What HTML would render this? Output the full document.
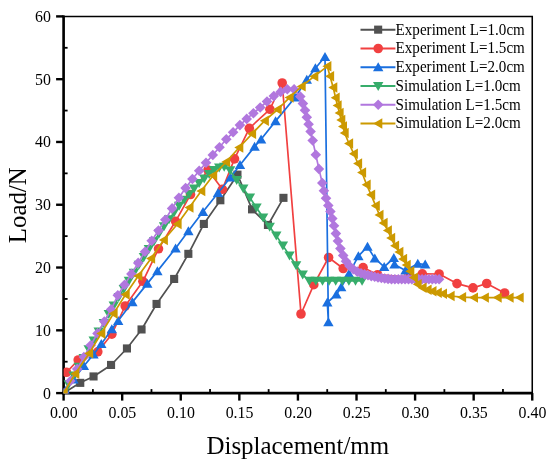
<!DOCTYPE html>
<html lang="en"><head><meta charset="utf-8"><title>Load-Displacement</title>
<style>html,body{margin:0;padding:0;background:#fff}body{width:550px;height:465px;overflow:hidden}</style></head>
<body>
<svg width="550" height="465" viewBox="0 0 550 465" style="display:block" font-family="'Liberation Serif', serif" fill="#000">
<rect width="550" height="465" fill="#fff"/>
<g stroke="#000" fill="none">
<line x1="62.27" y1="16.40" x2="533.02" y2="16.40" stroke-width="1.55"/>
<line x1="532.25" y1="16.40" x2="532.25" y2="394.43" stroke-width="1.55"/>
<line x1="63.60" y1="15.62" x2="63.60" y2="394.43" stroke-width="2.65"/>
<line x1="62.27" y1="393.10" x2="533.02" y2="393.10" stroke-width="2.65"/>
<line x1="63.60" y1="393.10" x2="63.60" y2="400.60" stroke-width="2.40"/>
<line x1="122.18" y1="393.10" x2="122.18" y2="400.60" stroke-width="2.40"/>
<line x1="180.76" y1="393.10" x2="180.76" y2="400.60" stroke-width="2.40"/>
<line x1="239.34" y1="393.10" x2="239.34" y2="400.60" stroke-width="2.40"/>
<line x1="297.93" y1="393.10" x2="297.93" y2="400.60" stroke-width="2.40"/>
<line x1="356.51" y1="393.10" x2="356.51" y2="400.60" stroke-width="2.40"/>
<line x1="415.09" y1="393.10" x2="415.09" y2="400.60" stroke-width="2.40"/>
<line x1="473.67" y1="393.10" x2="473.67" y2="400.60" stroke-width="2.40"/>
<line x1="532.25" y1="393.10" x2="532.25" y2="400.60" stroke-width="2.40"/>
<line x1="92.89" y1="393.10" x2="92.89" y2="389.10" stroke-width="1.80"/>
<line x1="151.47" y1="393.10" x2="151.47" y2="389.10" stroke-width="1.80"/>
<line x1="210.05" y1="393.10" x2="210.05" y2="389.10" stroke-width="1.80"/>
<line x1="268.63" y1="393.10" x2="268.63" y2="389.10" stroke-width="1.80"/>
<line x1="327.22" y1="393.10" x2="327.22" y2="389.10" stroke-width="1.80"/>
<line x1="385.80" y1="393.10" x2="385.80" y2="389.10" stroke-width="1.80"/>
<line x1="444.38" y1="393.10" x2="444.38" y2="389.10" stroke-width="1.80"/>
<line x1="502.96" y1="393.10" x2="502.96" y2="389.10" stroke-width="1.80"/>
<line x1="63.60" y1="393.10" x2="56.10" y2="393.10" stroke-width="2.40"/>
<line x1="63.60" y1="330.32" x2="56.10" y2="330.32" stroke-width="2.40"/>
<line x1="63.60" y1="267.53" x2="56.10" y2="267.53" stroke-width="2.40"/>
<line x1="63.60" y1="204.75" x2="56.10" y2="204.75" stroke-width="2.40"/>
<line x1="63.60" y1="141.97" x2="56.10" y2="141.97" stroke-width="2.40"/>
<line x1="63.60" y1="79.18" x2="56.10" y2="79.18" stroke-width="2.40"/>
<line x1="63.60" y1="16.40" x2="56.10" y2="16.40" stroke-width="2.40"/>
<line x1="63.60" y1="361.71" x2="67.60" y2="361.71" stroke-width="1.80"/>
<line x1="63.60" y1="298.93" x2="67.60" y2="298.93" stroke-width="1.80"/>
<line x1="63.60" y1="236.14" x2="67.60" y2="236.14" stroke-width="1.80"/>
<line x1="63.60" y1="173.36" x2="67.60" y2="173.36" stroke-width="1.80"/>
<line x1="63.60" y1="110.57" x2="67.60" y2="110.57" stroke-width="1.80"/>
<line x1="63.60" y1="47.79" x2="67.60" y2="47.79" stroke-width="1.80"/>
</g>
<clipPath id="pc"><rect x="63.60" y="16.40" width="468.65" height="377.00"/></clipPath>
<g clip-path="url(#pc)">
<g>
<polyline fill="none" stroke="#515151" stroke-width="1.70" stroke-linejoin="round" points="64.5,392.5 80.2,382.8 93.6,376.5 111.1,365.0 126.9,348.5 141.6,329.5 156.6,304.0 174.2,279.0 188.4,253.8 203.8,224.0 220.4,200.3 237.5,174.7 252.1,209.4 268.0,225.0 283.5,197.9"/>
<rect x="60.5" y="388.4" width="8.1" height="8.1" fill="#515151"/>
<rect x="76.2" y="378.8" width="8.1" height="8.1" fill="#515151"/>
<rect x="89.5" y="372.4" width="8.1" height="8.1" fill="#515151"/>
<rect x="107.0" y="360.9" width="8.1" height="8.1" fill="#515151"/>
<rect x="122.9" y="344.4" width="8.1" height="8.1" fill="#515151"/>
<rect x="137.5" y="325.4" width="8.1" height="8.1" fill="#515151"/>
<rect x="152.5" y="299.9" width="8.1" height="8.1" fill="#515151"/>
<rect x="170.1" y="274.9" width="8.1" height="8.1" fill="#515151"/>
<rect x="184.3" y="249.8" width="8.1" height="8.1" fill="#515151"/>
<rect x="199.8" y="219.9" width="8.1" height="8.1" fill="#515151"/>
<rect x="216.3" y="196.2" width="8.1" height="8.1" fill="#515151"/>
<rect x="233.4" y="170.6" width="8.1" height="8.1" fill="#515151"/>
<rect x="248.0" y="205.3" width="8.1" height="8.1" fill="#515151"/>
<rect x="263.9" y="220.9" width="8.1" height="8.1" fill="#515151"/>
<rect x="279.4" y="193.8" width="8.1" height="8.1" fill="#515151"/>
</g>
<g>
<polyline fill="none" stroke="#F14040" stroke-width="1.70" stroke-linejoin="round" points="66.5,372.3 78.2,360.0 97.8,351.8 111.8,334.2 125.2,306.0 142.9,281.3 158.5,248.8 175.6,221.3 190.5,194.5 208.0,170.0 222.4,189.3 234.5,158.9 249.3,128.3 269.9,109.3 282.2,83.0 301.0,314.0 313.8,284.7 328.6,257.5 343.2,268.5 363.1,267.6 377.6,274.7 408.0,277.0 422.3,273.8 439.1,274.0 457.0,283.6 473.0,287.9 486.7,283.5 504.6,293.0"/>
<circle cx="66.5" cy="372.3" r="4.8" fill="#F14040"/>
<circle cx="78.2" cy="360.0" r="4.8" fill="#F14040"/>
<circle cx="97.8" cy="351.8" r="4.8" fill="#F14040"/>
<circle cx="111.8" cy="334.2" r="4.8" fill="#F14040"/>
<circle cx="125.2" cy="306.0" r="4.8" fill="#F14040"/>
<circle cx="142.9" cy="281.3" r="4.8" fill="#F14040"/>
<circle cx="158.5" cy="248.8" r="4.8" fill="#F14040"/>
<circle cx="175.6" cy="221.3" r="4.8" fill="#F14040"/>
<circle cx="190.5" cy="194.5" r="4.8" fill="#F14040"/>
<circle cx="208.0" cy="170.0" r="4.8" fill="#F14040"/>
<circle cx="222.4" cy="189.3" r="4.8" fill="#F14040"/>
<circle cx="234.5" cy="158.9" r="4.8" fill="#F14040"/>
<circle cx="249.3" cy="128.3" r="4.8" fill="#F14040"/>
<circle cx="269.9" cy="109.3" r="4.8" fill="#F14040"/>
<circle cx="282.2" cy="83.0" r="4.8" fill="#F14040"/>
<circle cx="301.0" cy="314.0" r="4.8" fill="#F14040"/>
<circle cx="313.8" cy="284.7" r="4.8" fill="#F14040"/>
<circle cx="328.6" cy="257.5" r="4.8" fill="#F14040"/>
<circle cx="343.2" cy="268.5" r="4.8" fill="#F14040"/>
<circle cx="363.1" cy="267.6" r="4.8" fill="#F14040"/>
<circle cx="377.6" cy="274.7" r="4.8" fill="#F14040"/>
<circle cx="408.0" cy="277.0" r="4.8" fill="#F14040"/>
<circle cx="422.3" cy="273.8" r="4.8" fill="#F14040"/>
<circle cx="439.1" cy="274.0" r="4.8" fill="#F14040"/>
<circle cx="457.0" cy="283.6" r="4.8" fill="#F14040"/>
<circle cx="473.0" cy="287.9" r="4.8" fill="#F14040"/>
<circle cx="486.7" cy="283.5" r="4.8" fill="#F14040"/>
<circle cx="504.6" cy="293.0" r="4.8" fill="#F14040"/>
</g>
<g>
<polyline fill="none" stroke="#1A6FDF" stroke-width="1.70" stroke-linejoin="round" points="65.5,391.0 73.5,379.5 83.9,366.0 93.5,354.4 101.3,344.0 111.8,329.2 118.2,320.8 132.4,302.1 147.3,283.6 157.4,271.1 175.6,248.3 188.4,231.1 203.0,211.8 218.0,193.0 230.4,177.5 240.0,165.0 254.6,146.6 261.1,139.3 275.6,121.1 295.0,97.5 306.8,79.6 315.4,68.2 325.0,56.8 328.4,322.2 327.3,302.5 336.4,294.5 341.2,287.2 349.0,273.7 358.4,256.1 367.5,246.6 374.8,258.4 384.2,266.8 393.8,258.0 394.5,264.5 405.5,270.5 417.8,263.7 425.2,264.5"/>
<polygon fill="#1A6FDF" points="65.5,386.1 60.3,395.1 70.7,395.1"/>
<polygon fill="#1A6FDF" points="73.5,374.6 68.3,383.6 78.7,383.6"/>
<polygon fill="#1A6FDF" points="83.9,361.1 78.7,370.1 89.1,370.1"/>
<polygon fill="#1A6FDF" points="93.5,349.5 88.3,358.5 98.7,358.5"/>
<polygon fill="#1A6FDF" points="101.3,339.1 96.1,348.1 106.5,348.1"/>
<polygon fill="#1A6FDF" points="111.8,324.3 106.6,333.3 117.0,333.3"/>
<polygon fill="#1A6FDF" points="118.2,315.9 113.0,324.9 123.4,324.9"/>
<polygon fill="#1A6FDF" points="132.4,297.2 127.2,306.2 137.6,306.2"/>
<polygon fill="#1A6FDF" points="147.3,278.7 142.1,287.7 152.5,287.7"/>
<polygon fill="#1A6FDF" points="157.4,266.2 152.2,275.2 162.6,275.2"/>
<polygon fill="#1A6FDF" points="175.6,243.4 170.4,252.4 180.8,252.4"/>
<polygon fill="#1A6FDF" points="188.4,226.2 183.2,235.2 193.6,235.2"/>
<polygon fill="#1A6FDF" points="203.0,206.9 197.8,215.9 208.2,215.9"/>
<polygon fill="#1A6FDF" points="218.0,188.1 212.8,197.1 223.2,197.1"/>
<polygon fill="#1A6FDF" points="230.4,172.6 225.2,181.6 235.6,181.6"/>
<polygon fill="#1A6FDF" points="240.0,160.1 234.8,169.1 245.2,169.1"/>
<polygon fill="#1A6FDF" points="254.6,141.7 249.4,150.7 259.8,150.7"/>
<polygon fill="#1A6FDF" points="261.1,134.4 255.9,143.4 266.3,143.4"/>
<polygon fill="#1A6FDF" points="275.6,116.2 270.4,125.2 280.8,125.2"/>
<polygon fill="#1A6FDF" points="295.0,92.6 289.8,101.6 300.2,101.6"/>
<polygon fill="#1A6FDF" points="306.8,74.7 301.6,83.7 312.0,83.7"/>
<polygon fill="#1A6FDF" points="315.4,63.3 310.2,72.3 320.6,72.3"/>
<polygon fill="#1A6FDF" points="325.0,51.9 319.8,60.9 330.2,60.9"/>
<polygon fill="#1A6FDF" points="328.4,317.3 323.2,326.3 333.6,326.3"/>
<polygon fill="#1A6FDF" points="327.3,297.6 322.1,306.6 332.5,306.6"/>
<polygon fill="#1A6FDF" points="336.4,289.6 331.2,298.6 341.6,298.6"/>
<polygon fill="#1A6FDF" points="341.2,282.3 336.0,291.3 346.4,291.3"/>
<polygon fill="#1A6FDF" points="349.0,268.8 343.8,277.8 354.2,277.8"/>
<polygon fill="#1A6FDF" points="358.4,251.2 353.2,260.2 363.6,260.2"/>
<polygon fill="#1A6FDF" points="367.5,241.7 362.3,250.7 372.7,250.7"/>
<polygon fill="#1A6FDF" points="374.8,253.5 369.6,262.5 380.0,262.5"/>
<polygon fill="#1A6FDF" points="384.2,261.9 379.0,270.9 389.4,270.9"/>
<polygon fill="#1A6FDF" points="393.8,253.1 388.6,262.1 399.0,262.1"/>
<polygon fill="#1A6FDF" points="394.5,259.6 389.3,268.6 399.7,268.6"/>
<polygon fill="#1A6FDF" points="405.5,265.6 400.3,274.6 410.7,274.6"/>
<polygon fill="#1A6FDF" points="417.8,258.8 412.6,267.8 423.0,267.8"/>
<polygon fill="#1A6FDF" points="425.2,259.6 420.0,268.6 430.4,268.6"/>
</g>
<g>
<polyline fill="none" stroke="#37AD6B" stroke-width="1.70" stroke-linejoin="round" points="63.6,393.0 68.6,384.3 73.6,375.6 78.7,366.8 83.7,358.1 88.7,349.3 93.7,340.5 98.7,331.7 103.8,323.0 108.8,314.2 113.8,305.5 118.8,297.1 123.8,289.0 128.9,280.8 133.9,272.9 138.9,264.9 143.9,257.0 148.9,249.1 154.0,241.3 159.0,233.6 164.0,226.4 169.0,219.4 174.0,212.6 179.1,205.8 184.1,199.8 189.1,194.3 194.1,188.7 199.1,183.1 204.2,178.5 209.2,174.1 214.2,170.0 219.2,167.6 224.2,166.8 230.1,170.4 236.7,180.0 243.3,188.6 249.9,197.7 256.5,207.7 263.1,217.5 269.7,226.9 276.3,235.7 282.9,245.6 289.5,255.5 296.1,265.3 302.7,274.7 309.3,280.8 315.9,280.9 322.5,280.9 329.1,280.9 335.7,280.9 342.3,280.9 348.9,280.9 355.5,280.9 362.1,280.9"/>
<polygon fill="#37AD6B" points="63.6,397.9 58.4,388.9 68.8,388.9"/>
<polygon fill="#37AD6B" points="68.6,389.2 63.4,380.2 73.8,380.2"/>
<polygon fill="#37AD6B" points="73.6,380.5 68.4,371.5 78.8,371.5"/>
<polygon fill="#37AD6B" points="78.7,371.7 73.5,362.7 83.9,362.7"/>
<polygon fill="#37AD6B" points="83.7,363.0 78.5,354.0 88.9,354.0"/>
<polygon fill="#37AD6B" points="88.7,354.2 83.5,345.2 93.9,345.2"/>
<polygon fill="#37AD6B" points="93.7,345.4 88.5,336.4 98.9,336.4"/>
<polygon fill="#37AD6B" points="98.7,336.6 93.5,327.6 103.9,327.6"/>
<polygon fill="#37AD6B" points="103.8,327.9 98.6,318.9 109.0,318.9"/>
<polygon fill="#37AD6B" points="108.8,319.1 103.6,310.1 114.0,310.1"/>
<polygon fill="#37AD6B" points="113.8,310.4 108.6,301.4 119.0,301.4"/>
<polygon fill="#37AD6B" points="118.8,302.0 113.6,293.0 124.0,293.0"/>
<polygon fill="#37AD6B" points="123.8,293.9 118.6,284.9 129.0,284.9"/>
<polygon fill="#37AD6B" points="128.9,285.7 123.7,276.7 134.1,276.7"/>
<polygon fill="#37AD6B" points="133.9,277.8 128.7,268.8 139.1,268.8"/>
<polygon fill="#37AD6B" points="138.9,269.8 133.7,260.8 144.1,260.8"/>
<polygon fill="#37AD6B" points="143.9,261.9 138.7,252.9 149.1,252.9"/>
<polygon fill="#37AD6B" points="148.9,254.0 143.7,245.0 154.1,245.0"/>
<polygon fill="#37AD6B" points="154.0,246.2 148.8,237.2 159.2,237.2"/>
<polygon fill="#37AD6B" points="159.0,238.5 153.8,229.5 164.2,229.5"/>
<polygon fill="#37AD6B" points="164.0,231.3 158.8,222.3 169.2,222.3"/>
<polygon fill="#37AD6B" points="169.0,224.3 163.8,215.3 174.2,215.3"/>
<polygon fill="#37AD6B" points="174.0,217.5 168.8,208.5 179.2,208.5"/>
<polygon fill="#37AD6B" points="179.1,210.7 173.9,201.7 184.3,201.7"/>
<polygon fill="#37AD6B" points="184.1,204.7 178.9,195.7 189.3,195.7"/>
<polygon fill="#37AD6B" points="189.1,199.2 183.9,190.2 194.3,190.2"/>
<polygon fill="#37AD6B" points="194.1,193.6 188.9,184.6 199.3,184.6"/>
<polygon fill="#37AD6B" points="199.1,188.0 193.9,179.0 204.3,179.0"/>
<polygon fill="#37AD6B" points="204.2,183.4 199.0,174.4 209.4,174.4"/>
<polygon fill="#37AD6B" points="209.2,179.0 204.0,170.0 214.4,170.0"/>
<polygon fill="#37AD6B" points="214.2,174.9 209.0,165.9 219.4,165.9"/>
<polygon fill="#37AD6B" points="219.2,172.5 214.0,163.5 224.4,163.5"/>
<polygon fill="#37AD6B" points="224.2,171.7 219.0,162.7 229.4,162.7"/>
<polygon fill="#37AD6B" points="230.1,175.3 224.9,166.3 235.3,166.3"/>
<polygon fill="#37AD6B" points="236.7,184.9 231.5,175.9 241.9,175.9"/>
<polygon fill="#37AD6B" points="243.3,193.5 238.1,184.5 248.5,184.5"/>
<polygon fill="#37AD6B" points="249.9,202.6 244.7,193.6 255.1,193.6"/>
<polygon fill="#37AD6B" points="256.5,212.6 251.3,203.6 261.7,203.6"/>
<polygon fill="#37AD6B" points="263.1,222.4 257.9,213.4 268.3,213.4"/>
<polygon fill="#37AD6B" points="269.7,231.8 264.5,222.8 274.9,222.8"/>
<polygon fill="#37AD6B" points="276.3,240.6 271.1,231.6 281.5,231.6"/>
<polygon fill="#37AD6B" points="282.9,250.5 277.7,241.5 288.1,241.5"/>
<polygon fill="#37AD6B" points="289.5,260.4 284.3,251.4 294.7,251.4"/>
<polygon fill="#37AD6B" points="296.1,270.2 290.9,261.2 301.3,261.2"/>
<polygon fill="#37AD6B" points="302.7,279.6 297.5,270.6 307.9,270.6"/>
<polygon fill="#37AD6B" points="309.3,285.7 304.1,276.7 314.5,276.7"/>
<polygon fill="#37AD6B" points="315.9,285.8 310.7,276.8 321.1,276.8"/>
<polygon fill="#37AD6B" points="322.5,285.8 317.3,276.8 327.7,276.8"/>
<polygon fill="#37AD6B" points="329.1,285.8 323.9,276.8 334.3,276.8"/>
<polygon fill="#37AD6B" points="335.7,285.8 330.5,276.8 340.9,276.8"/>
<polygon fill="#37AD6B" points="342.3,285.8 337.1,276.8 347.5,276.8"/>
<polygon fill="#37AD6B" points="348.9,285.8 343.7,276.8 354.1,276.8"/>
<polygon fill="#37AD6B" points="355.5,285.8 350.3,276.8 360.7,276.8"/>
<polygon fill="#37AD6B" points="362.1,285.8 356.9,276.8 367.3,276.8"/>
</g>
<g>
<polyline fill="none" stroke="#B177DE" stroke-width="1.70" stroke-linejoin="round" points="63.6,393.0 70.4,381.0 77.2,369.0 83.9,357.1 90.7,345.2 97.5,333.4 104.3,321.5 111.1,309.5 117.8,295.3 124.6,284.7 131.4,273.9 138.2,262.9 145.0,251.7 151.7,240.8 158.5,230.5 165.3,219.8 172.1,208.4 178.9,197.7 185.6,188.1 192.4,179.0 199.2,170.7 206.0,162.7 212.8,155.0 219.5,147.2 226.3,139.3 233.1,132.3 239.9,125.1 246.7,118.9 253.4,113.2 260.2,107.5 267.0,101.5 273.8,96.1 280.6,91.9 287.3,89.3 294.1,89.3 300.3,96.6 302.9,103.6 305.0,110.3 306.8,117.3 308.6,124.2 310.6,131.5 312.7,140.5 315.8,154.7 318.9,168.9 322.3,183.0 323.9,190.8 326.0,198.3 328.3,205.5 330.4,211.5 332.3,218.5 334.0,225.8 335.9,233.6 337.9,241.0 340.4,248.6 343.2,255.4 346.0,261.3 349.5,266.0 353.3,269.3 357.2,271.6 361.0,273.2 364.6,274.4 368.0,275.3 371.3,276.1 374.7,276.8 378.0,277.5 381.4,278.0 384.7,278.5 388.1,278.9 391.5,279.2 394.9,279.2 398.3,279.2 401.7,279.2 405.1,279.2 408.5,279.2 411.9,279.2 415.3,279.2 418.7,279.2 422.1,279.2 425.5,279.2 428.9,279.2 432.3,279.2 435.7,279.2 439.1,279.2"/>
<polygon fill="#B177DE" points="63.6,387.7 68.9,393.0 63.6,398.3 58.3,393.0"/>
<polygon fill="#B177DE" points="70.4,375.7 75.7,381.0 70.4,386.3 65.1,381.0"/>
<polygon fill="#B177DE" points="77.2,363.7 82.5,369.0 77.2,374.3 71.9,369.0"/>
<polygon fill="#B177DE" points="83.9,351.8 89.2,357.1 83.9,362.4 78.6,357.1"/>
<polygon fill="#B177DE" points="90.7,339.9 96.0,345.2 90.7,350.5 85.4,345.2"/>
<polygon fill="#B177DE" points="97.5,328.1 102.8,333.4 97.5,338.7 92.2,333.4"/>
<polygon fill="#B177DE" points="104.3,316.2 109.6,321.5 104.3,326.8 99.0,321.5"/>
<polygon fill="#B177DE" points="111.1,304.2 116.4,309.5 111.1,314.8 105.8,309.5"/>
<polygon fill="#B177DE" points="117.8,290.0 123.1,295.3 117.8,300.6 112.5,295.3"/>
<polygon fill="#B177DE" points="124.6,279.4 129.9,284.7 124.6,290.0 119.3,284.7"/>
<polygon fill="#B177DE" points="131.4,268.6 136.7,273.9 131.4,279.2 126.1,273.9"/>
<polygon fill="#B177DE" points="138.2,257.6 143.5,262.9 138.2,268.2 132.9,262.9"/>
<polygon fill="#B177DE" points="145.0,246.4 150.3,251.7 145.0,257.0 139.7,251.7"/>
<polygon fill="#B177DE" points="151.7,235.5 157.0,240.8 151.7,246.1 146.4,240.8"/>
<polygon fill="#B177DE" points="158.5,225.2 163.8,230.5 158.5,235.8 153.2,230.5"/>
<polygon fill="#B177DE" points="165.3,214.5 170.6,219.8 165.3,225.1 160.0,219.8"/>
<polygon fill="#B177DE" points="172.1,203.1 177.4,208.4 172.1,213.7 166.8,208.4"/>
<polygon fill="#B177DE" points="178.9,192.4 184.2,197.7 178.9,203.0 173.6,197.7"/>
<polygon fill="#B177DE" points="185.6,182.8 190.9,188.1 185.6,193.4 180.3,188.1"/>
<polygon fill="#B177DE" points="192.4,173.7 197.7,179.0 192.4,184.3 187.1,179.0"/>
<polygon fill="#B177DE" points="199.2,165.4 204.5,170.7 199.2,176.0 193.9,170.7"/>
<polygon fill="#B177DE" points="206.0,157.4 211.3,162.7 206.0,168.0 200.7,162.7"/>
<polygon fill="#B177DE" points="212.8,149.7 218.1,155.0 212.8,160.3 207.5,155.0"/>
<polygon fill="#B177DE" points="219.5,141.9 224.8,147.2 219.5,152.5 214.2,147.2"/>
<polygon fill="#B177DE" points="226.3,134.0 231.6,139.3 226.3,144.6 221.0,139.3"/>
<polygon fill="#B177DE" points="233.1,127.0 238.4,132.3 233.1,137.6 227.8,132.3"/>
<polygon fill="#B177DE" points="239.9,119.8 245.2,125.1 239.9,130.4 234.6,125.1"/>
<polygon fill="#B177DE" points="246.7,113.6 252.0,118.9 246.7,124.2 241.4,118.9"/>
<polygon fill="#B177DE" points="253.4,107.9 258.7,113.2 253.4,118.5 248.1,113.2"/>
<polygon fill="#B177DE" points="260.2,102.2 265.5,107.5 260.2,112.8 254.9,107.5"/>
<polygon fill="#B177DE" points="267.0,96.2 272.3,101.5 267.0,106.8 261.7,101.5"/>
<polygon fill="#B177DE" points="273.8,90.8 279.1,96.1 273.8,101.4 268.5,96.1"/>
<polygon fill="#B177DE" points="280.6,86.6 285.9,91.9 280.6,97.2 275.3,91.9"/>
<polygon fill="#B177DE" points="287.3,84.0 292.6,89.3 287.3,94.6 282.0,89.3"/>
<polygon fill="#B177DE" points="294.1,84.0 299.4,89.3 294.1,94.6 288.8,89.3"/>
<polygon fill="#B177DE" points="300.3,91.3 305.6,96.6 300.3,101.9 295.0,96.6"/>
<polygon fill="#B177DE" points="302.9,98.3 308.2,103.6 302.9,108.9 297.6,103.6"/>
<polygon fill="#B177DE" points="305.0,105.0 310.3,110.3 305.0,115.6 299.7,110.3"/>
<polygon fill="#B177DE" points="306.8,112.0 312.1,117.3 306.8,122.6 301.5,117.3"/>
<polygon fill="#B177DE" points="308.6,118.9 313.9,124.2 308.6,129.5 303.3,124.2"/>
<polygon fill="#B177DE" points="310.6,126.2 315.9,131.5 310.6,136.8 305.3,131.5"/>
<polygon fill="#B177DE" points="312.7,135.2 318.0,140.5 312.7,145.8 307.4,140.5"/>
<polygon fill="#B177DE" points="315.8,149.4 321.1,154.7 315.8,160.0 310.5,154.7"/>
<polygon fill="#B177DE" points="318.9,163.6 324.2,168.9 318.9,174.2 313.6,168.9"/>
<polygon fill="#B177DE" points="322.3,177.7 327.6,183.0 322.3,188.3 317.0,183.0"/>
<polygon fill="#B177DE" points="323.9,185.5 329.2,190.8 323.9,196.1 318.6,190.8"/>
<polygon fill="#B177DE" points="326.0,193.0 331.3,198.3 326.0,203.6 320.7,198.3"/>
<polygon fill="#B177DE" points="328.3,200.2 333.6,205.5 328.3,210.8 323.0,205.5"/>
<polygon fill="#B177DE" points="330.4,206.2 335.7,211.5 330.4,216.8 325.1,211.5"/>
<polygon fill="#B177DE" points="332.3,213.2 337.6,218.5 332.3,223.8 327.0,218.5"/>
<polygon fill="#B177DE" points="334.0,220.5 339.3,225.8 334.0,231.1 328.7,225.8"/>
<polygon fill="#B177DE" points="335.9,228.3 341.2,233.6 335.9,238.9 330.6,233.6"/>
<polygon fill="#B177DE" points="337.9,235.7 343.2,241.0 337.9,246.3 332.6,241.0"/>
<polygon fill="#B177DE" points="340.4,243.3 345.7,248.6 340.4,253.9 335.1,248.6"/>
<polygon fill="#B177DE" points="343.2,250.1 348.5,255.4 343.2,260.7 337.9,255.4"/>
<polygon fill="#B177DE" points="346.0,256.0 351.3,261.3 346.0,266.6 340.7,261.3"/>
<polygon fill="#B177DE" points="349.5,260.7 354.8,266.0 349.5,271.3 344.2,266.0"/>
<polygon fill="#B177DE" points="353.3,264.0 358.6,269.3 353.3,274.6 348.0,269.3"/>
<polygon fill="#B177DE" points="357.2,266.3 362.5,271.6 357.2,276.9 351.9,271.6"/>
<polygon fill="#B177DE" points="361.0,267.9 366.3,273.2 361.0,278.5 355.7,273.2"/>
<polygon fill="#B177DE" points="364.6,269.1 369.9,274.4 364.6,279.7 359.3,274.4"/>
<polygon fill="#B177DE" points="368.0,270.0 373.3,275.3 368.0,280.6 362.7,275.3"/>
<polygon fill="#B177DE" points="371.3,270.8 376.6,276.1 371.3,281.4 366.0,276.1"/>
<polygon fill="#B177DE" points="374.7,271.5 380.0,276.8 374.7,282.1 369.4,276.8"/>
<polygon fill="#B177DE" points="378.0,272.2 383.3,277.5 378.0,282.8 372.7,277.5"/>
<polygon fill="#B177DE" points="381.4,272.7 386.7,278.0 381.4,283.3 376.1,278.0"/>
<polygon fill="#B177DE" points="384.7,273.2 390.0,278.5 384.7,283.8 379.4,278.5"/>
<polygon fill="#B177DE" points="388.1,273.6 393.4,278.9 388.1,284.2 382.8,278.9"/>
<polygon fill="#B177DE" points="391.5,273.9 396.8,279.2 391.5,284.5 386.2,279.2"/>
<polygon fill="#B177DE" points="394.9,273.9 400.2,279.2 394.9,284.5 389.6,279.2"/>
<polygon fill="#B177DE" points="398.3,273.9 403.6,279.2 398.3,284.5 393.0,279.2"/>
<polygon fill="#B177DE" points="401.7,273.9 407.0,279.2 401.7,284.5 396.4,279.2"/>
<polygon fill="#B177DE" points="405.1,273.9 410.4,279.2 405.1,284.5 399.8,279.2"/>
<polygon fill="#B177DE" points="408.5,273.9 413.8,279.2 408.5,284.5 403.2,279.2"/>
<polygon fill="#B177DE" points="411.9,273.9 417.2,279.2 411.9,284.5 406.6,279.2"/>
<polygon fill="#B177DE" points="415.3,273.9 420.6,279.2 415.3,284.5 410.0,279.2"/>
<polygon fill="#B177DE" points="418.7,273.9 424.0,279.2 418.7,284.5 413.4,279.2"/>
<polygon fill="#B177DE" points="422.1,273.9 427.4,279.2 422.1,284.5 416.8,279.2"/>
<polygon fill="#B177DE" points="425.5,273.9 430.8,279.2 425.5,284.5 420.2,279.2"/>
<polygon fill="#B177DE" points="428.9,273.9 434.2,279.2 428.9,284.5 423.6,279.2"/>
<polygon fill="#B177DE" points="432.3,273.9 437.6,279.2 432.3,284.5 427.0,279.2"/>
<polygon fill="#B177DE" points="435.7,273.9 441.0,279.2 435.7,284.5 430.4,279.2"/>
<polygon fill="#B177DE" points="439.1,273.9 444.4,279.2 439.1,284.5 433.8,279.2"/>
</g>
<g>
<polyline fill="none" stroke="#CC9900" stroke-width="1.70" stroke-linejoin="round" points="63.6,393.0 75.2,373.8 89.1,353.4 101.2,333.5 113.5,313.6 125.6,294.5 138.2,275.9 151.0,258.5 163.8,240.0 177.5,224.0 189.4,207.6 201.2,191.1 213.1,175.6 226.1,162.0 239.2,147.5 252.0,133.8 264.8,120.7 277.6,109.5 289.5,97.6 301.6,86.4 314.2,76.4 327.3,66.3 330.0,76.2 333.2,87.5 335.6,97.8 337.5,105.5 339.5,112.9 341.2,120.0 342.9,126.5 344.6,133.0 349.0,143.5 353.8,153.8 358.0,163.5 362.0,172.5 366.6,184.7 371.1,194.8 375.7,205.8 379.4,214.9 383.5,223.0 387.8,230.4 391.1,238.0 395.0,245.8 399.3,252.0 403.0,259.0 406.6,265.0 410.2,271.3 413.8,277.6 417.6,284.2 422.5,287.8 427.5,289.8 432.4,291.3 437.7,292.8 442.9,293.8 450.5,296.0 462.0,297.2 473.9,297.6 484.8,297.6 497.6,297.6 509.5,297.6 519.6,297.6"/>
<polygon fill="#CC9900" points="58.7,393.0 67.7,387.8 67.7,398.2"/>
<polygon fill="#CC9900" points="70.3,373.8 79.3,368.6 79.3,379.0"/>
<polygon fill="#CC9900" points="84.2,353.4 93.2,348.2 93.2,358.6"/>
<polygon fill="#CC9900" points="96.3,333.5 105.3,328.3 105.3,338.7"/>
<polygon fill="#CC9900" points="108.6,313.6 117.6,308.4 117.6,318.8"/>
<polygon fill="#CC9900" points="120.7,294.5 129.7,289.3 129.7,299.7"/>
<polygon fill="#CC9900" points="133.3,275.9 142.3,270.7 142.3,281.1"/>
<polygon fill="#CC9900" points="146.1,258.5 155.1,253.3 155.1,263.7"/>
<polygon fill="#CC9900" points="158.9,240.0 167.9,234.8 167.9,245.2"/>
<polygon fill="#CC9900" points="172.6,224.0 181.6,218.8 181.6,229.2"/>
<polygon fill="#CC9900" points="184.5,207.6 193.5,202.4 193.5,212.8"/>
<polygon fill="#CC9900" points="196.3,191.1 205.3,185.9 205.3,196.3"/>
<polygon fill="#CC9900" points="208.2,175.6 217.2,170.4 217.2,180.8"/>
<polygon fill="#CC9900" points="221.2,162.0 230.2,156.8 230.2,167.2"/>
<polygon fill="#CC9900" points="234.3,147.5 243.3,142.3 243.3,152.7"/>
<polygon fill="#CC9900" points="247.1,133.8 256.1,128.6 256.1,139.0"/>
<polygon fill="#CC9900" points="259.9,120.7 268.9,115.5 268.9,125.9"/>
<polygon fill="#CC9900" points="272.7,109.5 281.7,104.3 281.7,114.7"/>
<polygon fill="#CC9900" points="284.6,97.6 293.6,92.4 293.6,102.8"/>
<polygon fill="#CC9900" points="296.7,86.4 305.7,81.2 305.7,91.6"/>
<polygon fill="#CC9900" points="309.3,76.4 318.3,71.2 318.3,81.6"/>
<polygon fill="#CC9900" points="322.4,66.3 331.4,61.1 331.4,71.5"/>
<polygon fill="#CC9900" points="325.1,76.2 334.1,71.0 334.1,81.4"/>
<polygon fill="#CC9900" points="328.3,87.5 337.3,82.3 337.3,92.7"/>
<polygon fill="#CC9900" points="330.7,97.8 339.7,92.6 339.7,103.0"/>
<polygon fill="#CC9900" points="332.6,105.5 341.6,100.3 341.6,110.7"/>
<polygon fill="#CC9900" points="334.6,112.9 343.6,107.7 343.6,118.1"/>
<polygon fill="#CC9900" points="336.3,120.0 345.3,114.8 345.3,125.2"/>
<polygon fill="#CC9900" points="338.0,126.5 347.0,121.3 347.0,131.7"/>
<polygon fill="#CC9900" points="339.7,133.0 348.7,127.8 348.7,138.2"/>
<polygon fill="#CC9900" points="344.1,143.5 353.1,138.3 353.1,148.7"/>
<polygon fill="#CC9900" points="348.9,153.8 357.9,148.6 357.9,159.0"/>
<polygon fill="#CC9900" points="353.1,163.5 362.1,158.3 362.1,168.7"/>
<polygon fill="#CC9900" points="357.1,172.5 366.1,167.3 366.1,177.7"/>
<polygon fill="#CC9900" points="361.7,184.7 370.7,179.5 370.7,189.9"/>
<polygon fill="#CC9900" points="366.2,194.8 375.2,189.6 375.2,200.0"/>
<polygon fill="#CC9900" points="370.8,205.8 379.8,200.6 379.8,211.0"/>
<polygon fill="#CC9900" points="374.5,214.9 383.5,209.7 383.5,220.1"/>
<polygon fill="#CC9900" points="378.6,223.0 387.6,217.8 387.6,228.2"/>
<polygon fill="#CC9900" points="382.9,230.4 391.9,225.2 391.9,235.6"/>
<polygon fill="#CC9900" points="386.2,238.0 395.2,232.8 395.2,243.2"/>
<polygon fill="#CC9900" points="390.1,245.8 399.1,240.6 399.1,251.0"/>
<polygon fill="#CC9900" points="394.4,252.0 403.4,246.8 403.4,257.2"/>
<polygon fill="#CC9900" points="398.1,259.0 407.1,253.8 407.1,264.2"/>
<polygon fill="#CC9900" points="401.7,265.0 410.7,259.8 410.7,270.2"/>
<polygon fill="#CC9900" points="405.3,271.3 414.3,266.1 414.3,276.5"/>
<polygon fill="#CC9900" points="408.9,277.6 417.9,272.4 417.9,282.8"/>
<polygon fill="#CC9900" points="412.7,284.2 421.7,279.0 421.7,289.4"/>
<polygon fill="#CC9900" points="417.6,287.8 426.6,282.6 426.6,293.0"/>
<polygon fill="#CC9900" points="422.6,289.8 431.6,284.6 431.6,295.0"/>
<polygon fill="#CC9900" points="427.5,291.3 436.5,286.1 436.5,296.5"/>
<polygon fill="#CC9900" points="432.8,292.8 441.8,287.6 441.8,298.0"/>
<polygon fill="#CC9900" points="438.0,293.8 447.0,288.6 447.0,299.0"/>
<polygon fill="#CC9900" points="445.6,296.0 454.6,290.8 454.6,301.2"/>
<polygon fill="#CC9900" points="457.1,297.2 466.1,292.0 466.1,302.4"/>
<polygon fill="#CC9900" points="469.0,297.6 478.0,292.4 478.0,302.8"/>
<polygon fill="#CC9900" points="479.9,297.6 488.9,292.4 488.9,302.8"/>
<polygon fill="#CC9900" points="492.7,297.6 501.7,292.4 501.7,302.8"/>
<polygon fill="#CC9900" points="504.6,297.6 513.6,292.4 513.6,302.8"/>
<polygon fill="#CC9900" points="514.7,297.6 523.7,292.4 523.7,302.8"/>
</g>
</g>
<text transform="translate(63.80,418.30) scale(1,1.065)" font-size="15.90" text-anchor="middle">0.00</text>
<text transform="translate(122.38,418.30) scale(1,1.065)" font-size="15.90" text-anchor="middle">0.05</text>
<text transform="translate(180.96,418.30) scale(1,1.065)" font-size="15.90" text-anchor="middle">0.10</text>
<text transform="translate(239.54,418.30) scale(1,1.065)" font-size="15.90" text-anchor="middle">0.15</text>
<text transform="translate(298.12,418.30) scale(1,1.065)" font-size="15.90" text-anchor="middle">0.20</text>
<text transform="translate(356.71,418.30) scale(1,1.065)" font-size="15.90" text-anchor="middle">0.25</text>
<text transform="translate(415.29,418.30) scale(1,1.065)" font-size="15.90" text-anchor="middle">0.30</text>
<text transform="translate(473.87,418.30) scale(1,1.065)" font-size="15.90" text-anchor="middle">0.35</text>
<text transform="translate(532.45,418.30) scale(1,1.065)" font-size="15.90" text-anchor="middle">0.40</text>
<text transform="translate(50.90,398.55) scale(1,1.065)" font-size="15.90" text-anchor="end">0</text>
<text transform="translate(50.90,335.77) scale(1,1.065)" font-size="15.90" text-anchor="end">10</text>
<text transform="translate(50.90,272.98) scale(1,1.065)" font-size="15.90" text-anchor="end">20</text>
<text transform="translate(50.90,210.20) scale(1,1.065)" font-size="15.90" text-anchor="end">30</text>
<text transform="translate(50.90,147.42) scale(1,1.065)" font-size="15.90" text-anchor="end">40</text>
<text transform="translate(50.90,84.63) scale(1,1.065)" font-size="15.90" text-anchor="end">50</text>
<text transform="translate(50.90,21.85) scale(1,1.065)" font-size="15.90" text-anchor="end">60</text>
<text transform="translate(297.80,453.80) scale(1,1.030)" font-size="24.92" text-anchor="middle">Displacement/mm</text>
<text transform="translate(26.30,205.30) rotate(-90) scale(1,1.030)" font-size="24.80" text-anchor="middle">Load/N</text>
<line x1="360.5" y1="29.70" x2="395.4" y2="29.70" stroke="#515151" stroke-width="1.85"/>
<rect x="374.1" y="25.6" width="8.1" height="8.1" fill="#515151"/>
<text transform="translate(395.60,34.70) scale(1,1.045)" font-size="15.10" text-anchor="start">Experiment L=1.0cm</text>
<line x1="360.5" y1="48.45" x2="395.4" y2="48.45" stroke="#F14040" stroke-width="1.85"/>
<circle cx="378.2" cy="48.5" r="4.8" fill="#F14040"/>
<text transform="translate(395.60,53.45) scale(1,1.045)" font-size="15.10" text-anchor="start">Experiment L=1.5cm</text>
<line x1="360.5" y1="67.20" x2="395.4" y2="67.20" stroke="#1A6FDF" stroke-width="1.85"/>
<polygon fill="#1A6FDF" points="378.2,62.3 373.0,71.3 383.4,71.3"/>
<text transform="translate(395.60,72.20) scale(1,1.045)" font-size="15.10" text-anchor="start">Experiment L=2.0cm</text>
<line x1="360.5" y1="85.95" x2="395.4" y2="85.95" stroke="#37AD6B" stroke-width="1.85"/>
<polygon fill="#37AD6B" points="378.2,90.9 373.0,81.9 383.4,81.9"/>
<text transform="translate(395.60,90.95) scale(1,1.045)" font-size="15.10" text-anchor="start">Simulation L=1.0cm</text>
<line x1="360.5" y1="104.70" x2="395.4" y2="104.70" stroke="#B177DE" stroke-width="1.85"/>
<polygon fill="#B177DE" points="378.2,99.4 383.5,104.7 378.2,110.0 372.9,104.7"/>
<text transform="translate(395.60,109.70) scale(1,1.045)" font-size="15.10" text-anchor="start">Simulation L=1.5cm</text>
<line x1="360.5" y1="123.45" x2="395.4" y2="123.45" stroke="#CC9900" stroke-width="1.85"/>
<polygon fill="#CC9900" points="373.3,123.5 382.3,118.2 382.3,128.7"/>
<text transform="translate(395.60,128.45) scale(1,1.045)" font-size="15.10" text-anchor="start">Simulation L=2.0cm</text>
</svg>
</body></html>
